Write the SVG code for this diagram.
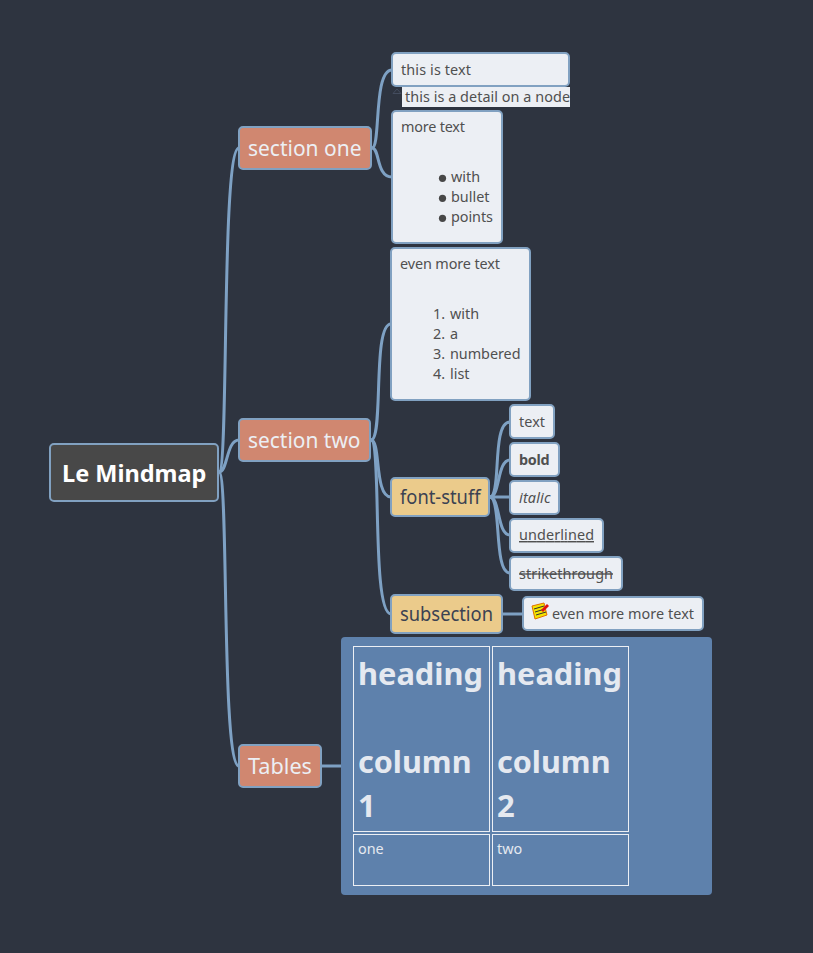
<svg xmlns="http://www.w3.org/2000/svg" width="813" height="953" viewBox="0 0 813 953">
<style>
text{font-family:"Noto Sans","Open Sans",sans-serif}
.c path{fill:none;stroke:#7ea1c4;stroke-width:3}
.n{stroke:#81a1c1;stroke-width:2}
.root{fill:#484848}.sec{fill:#d08770}.sub{fill:#ebcb8b}.leaf{fill:#eceff4}
.t1{font-size:22px;fill:#eceff4}
.t2{font-size:20px;fill:#3b4252}
.t3{font-size:14.400px;fill:#505050}
.th{font-size:31px;font-weight:700;fill:#e5e9f0}
.td{font-size:14.400px;fill:#e5e9f0}
.cell{fill:none;stroke:#eceff4;stroke-width:1}
</style>
<rect width="813" height="953" fill="#2e3440"/>
<g class="c">
<path d="M219 472C229 472 221 148 239 148"/>
<path d="M219 472C228 472 226 440 239 440"/>
<path d="M219 472C229 472 221 766 239 766"/>
<path d="M372 148C381 148 373 70 392 70"/>
<path d="M372 148C380 148 376 177 392 177"/>
<path d="M371 440C384 440 372 324 391 324"/>
<path d="M371 440C381 440 374 497 391 497"/>
<path d="M371 440C382 440 371 614 391 614"/>
<path d="M490 497C502 497 491 422 510 422"/>
<path d="M490 497C500 497 497 460 510 460"/>
<path d="M490 497H510"/>
<path d="M490 497C500 497 497 535 510 535"/>
<path d="M490 497C502 497 493 573 510 573"/>
<path d="M503 614H523"/>
<path d="M322 766H341"/>
</g>
<g id="root"><rect class="n root" x="50" y="444" width="168" height="57" rx="4"/><text x="62" y="482" font-size="23.500" font-weight="700" fill="#fff">Le Mindmap</text></g>
<g id="section-one"><rect class="n sec" x="239" y="127" width="132" height="42" rx="4"/><text class="t1" x="248" y="156" textLength="113.500" lengthAdjust="spacingAndGlyphs">section one</text></g>
<g id="section-two"><rect class="n sec" x="239" y="419" width="131" height="42" rx="4"/><text class="t1" x="248" y="448" textLength="112.500" lengthAdjust="spacingAndGlyphs">section two</text></g>
<g id="tables"><rect class="n sec" x="239" y="745" width="82" height="42" rx="4"/><text class="t1" x="248" y="773.500" textLength="64" lengthAdjust="spacingAndGlyphs">Tables</text></g>
<g id="font-stuff"><rect class="n sub" x="391" y="478" width="98" height="38" rx="4"/><text class="t2" x="400" y="504" textLength="80.500" lengthAdjust="spacingAndGlyphs">font-stuff</text></g>
<g id="subsection"><rect class="n sub" x="391" y="595" width="111" height="38" rx="4"/><text class="t2" x="400" y="621" textLength="93" lengthAdjust="spacingAndGlyphs">subsection</text></g>
<g id="this-is-text"><rect class="n leaf" x="392" y="53" width="177" height="33" rx="4"/><text class="t3" x="401" y="75" textLength="70">this is text</text></g>
<g id="detail"><path d="M393 93.500L397 89L401 93.500Z" fill="none" stroke="#434c5e"/><rect x="402" y="87" width="168" height="20" fill="#eceff4"/><text class="t3" x="405" y="102" textLength="165">this is a detail on a node</text></g>
<g id="more-text"><rect class="n leaf" x="392" y="111" width="110" height="132" rx="4"/><text class="t3" x="401" y="132" textLength="64">more text</text>
<circle cx="442.500" cy="178.300" r="3.600" fill="#484848"/><circle cx="442.500" cy="198.300" r="3.600" fill="#484848"/><circle cx="442.500" cy="218.300" r="3.600" fill="#484848"/>
<text class="t3" x="451" y="182">with</text><text class="t3" x="451" y="202">bullet</text><text class="t3" x="451" y="222" textLength="42">points</text></g>
<g id="even-more-text"><rect class="n leaf" x="391" y="248" width="139" height="152" rx="4"/><text class="t3" x="400" y="269" textLength="100">even more text</text>
<text class="t3" x="433" y="319">1.</text><text class="t3" x="433" y="339">2.</text><text class="t3" x="433" y="359">3.</text><text class="t3" x="433" y="379">4.</text>
<text class="t3" x="450" y="319">with</text><text class="t3" x="450" y="339">a</text><text class="t3" x="450" y="359" textLength="70.500">numbered</text><text class="t3" x="450" y="379">list</text></g>
<g id="text"><rect class="n leaf" x="510" y="405" width="44" height="33" rx="4"/><text class="t3" x="519" y="427" textLength="26">text</text></g>
<g id="bold"><rect class="n leaf" x="510" y="443" width="49" height="33" rx="4"/><text class="t3" x="519" y="465" font-weight="700" textLength="30.500">bold</text></g>
<g id="italic"><rect class="n leaf" x="510" y="481" width="49" height="33" rx="4"/><text class="t3" x="519" y="503" font-style="italic" textLength="31.500">italic</text></g>
<g id="underlined"><rect class="n leaf" x="510" y="519" width="93" height="33" rx="4"/><text class="t3" x="519" y="540" text-decoration="underline" textLength="75">underlined</text></g>
<g id="strikethrough"><rect class="n leaf" x="510" y="557" width="112" height="33" rx="4"/><text class="t3" x="519" y="579" text-decoration="line-through" textLength="94">strikethrough</text></g>
<g id="even-more-more-text"><rect class="n leaf" x="523" y="597" width="180" height="33" rx="4"/>
<path d="M532 606L544 603L547 615L535 619Z" fill="#f5e400" stroke="#e07000"/><path d="M534 609L544 606M535 612L545 609M536 615L546 612" stroke="#333" stroke-width="1"/><path d="M541 610L547 604L549 606L543 612Z" fill="#e01010"/>
<text class="t3" x="552" y="619" textLength="142">even more more text</text></g>
<g id="table"><rect x="341" y="637" width="371" height="258" rx="4" fill="#5e81ac"/>
<rect class="cell" x="353.500" y="646.500" width="136" height="185"/><rect class="cell" x="492.500" y="646.500" width="136" height="185"/>
<rect class="cell" x="353.500" y="834.500" width="136" height="51"/><rect class="cell" x="492.500" y="834.500" width="136" height="51"/>
<text class="th" x="358" y="685" textLength="125" lengthAdjust="spacingAndGlyphs">heading</text><text class="th" x="358" y="773" textLength="113.500" lengthAdjust="spacingAndGlyphs">column</text><text class="th" x="358" y="817">1</text>
<text class="th" x="497" y="685" textLength="125" lengthAdjust="spacingAndGlyphs">heading</text><text class="th" x="497" y="773" textLength="113.500" lengthAdjust="spacingAndGlyphs">column</text><text class="th" x="497" y="817">2</text>
<text class="td" x="358" y="854">one</text><text class="td" x="497" y="854">two</text></g>
</svg>
